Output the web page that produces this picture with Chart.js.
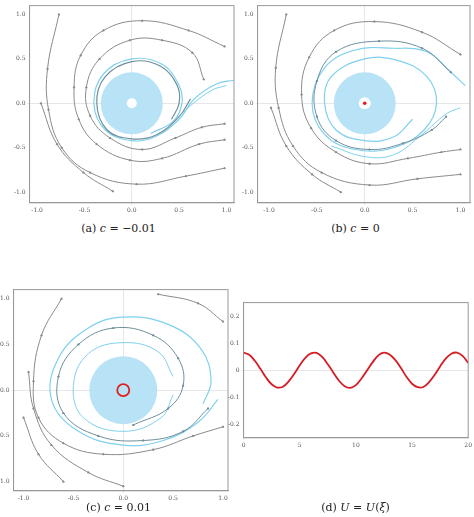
<!DOCTYPE html>
<html><head><meta charset="utf-8">
<script src="https://cdn.jsdelivr.net/npm/chart.js@4.4.1/dist/chart.umd.min.js"></script>
<style>
body{margin:0;background:#fff;width:474px;height:517px;position:relative;overflow:hidden}
canvas{position:absolute}
.cap{position:absolute;font-family:"DejaVu Serif","Liberation Serif",serif;font-size:11px;color:#222;text-align:center;width:237px}
</style></head><body>
<canvas id="ca" style="left:12px;top:0px"></canvas>
<canvas id="cb" style="left:240px;top:0px"></canvas>
<canvas id="cc" style="left:-4px;top:284px"></canvas>
<canvas id="cd" style="left:226px;top:297px"></canvas>
<div class="cap" style="left:0;top:222px">(a) <i>c</i> = −0.01</div>
<div class="cap" style="left:237px;top:222px">(b) <i>c</i> = 0</div>
<div class="cap" style="left:0;top:501px">(c) <i>c</i> = 0.01</div>
<div class="cap" style="left:237px;top:501px">(d) <i>U</i> = <i>U</i>(<i>ξ</i>)</div>
<script>
// ---- panel (a) c=-0.01 ----
const aGray1=[[-0.77,1.0],[-0.89,0.39],[-0.88,-0.07],[-0.74,-0.50],[-0.44,-0.78],[0.05,-0.91],[0.57,-0.82],[0.98,-0.73]];
const aGray2=[[-0.96,0.0],[-0.79,-0.46],[-0.51,-0.78],[-0.2,-0.99]];
const aGray3=[[0.98,0.64],[0.60,0.82],[0.11,0.93],[-0.30,0.82],[-0.54,0.54],[-0.61,0.18],[-0.56,-0.18],[-0.37,-0.46],[-0.02,-0.64],[0.32,-0.62],[0.71,-0.46],[0.98,-0.41]];
const aGray4=[[0.76,0.27],[0.64,0.57],[0.32,0.71],[-0.02,0.71],[-0.34,0.50],[-0.48,0.18],[-0.44,-0.14],[-0.23,-0.39],[0.11,-0.52],[0.46,-0.39],[0.74,-0.27],[0.98,-0.23]];
const aGray5=[[0.62,0.05],[0.5,-0.15],[0.25,-0.36],[0,-0.4],[-0.26,-0.3],[-0.37,0],[-0.28,0.3],[0,0.47],[0.3,0.42],[0.48,0.2],[0.5,0],[0.42,-0.18]];
const aCyan1=[[1.08,0.26],[0.9,0.22],[0.66,0.05],[0.5,-0.18],[0.24,-0.38],[0,-0.42],[-0.28,-0.3],[-0.4,0],[-0.3,0.33],[0,0.5],[0.32,0.44],[0.5,0.2],[0.53,0],[0.44,-0.2],[0.2,-0.34]];
const aCyan2=[[1.0,0.2],[0.85,0.15],[0.65,0.0],[0.55,-0.1]];
// ---- panel (b) c=0 ----
const bGray1=[[-0.82,1.0],[-0.93,0.4],[-0.9,-0.05],[-0.75,-0.48],[-0.45,-0.78],[0.05,-0.92],[0.55,-0.85],[1.0,-0.8]];
const bGray2=[[-0.98,-0.05],[-0.82,-0.48],[-0.55,-0.8],[-0.25,-1.0]];
const bGray3=[[1.0,0.55],[0.6,0.8],[0.1,0.92],[-0.32,0.82],[-0.58,0.52],[-0.66,0.1],[-0.56,-0.28],[-0.3,-0.55],[0.05,-0.68],[0.45,-0.62],[0.8,-0.55],[1.0,-0.52]];
const bGray4=[[0.9,0.35],[0.6,0.62],[0.15,0.7],[-0.3,0.58],[-0.5,0.25],[-0.5,-0.15],[-0.3,-0.42],[0.05,-0.52],[0.4,-0.45],[0.7,-0.3],[0.85,-0.15]];
const bCyan1=[[1.05,0.2],[0.9,0.35],[0.65,0.58],[0.3,0.62],[-0.1,0.6],[-0.42,0.4],[-0.55,0.0],[-0.42,-0.35],[-0.1,-0.52],[0.3,-0.5],[0.62,-0.3],[0.75,0.0],[0.65,0.3],[0.35,0.48],[0,0.5],[-0.35,0.3],[-0.42,0],[-0.3,-0.3],[0,-0.42],[0.3,-0.38],[0.5,-0.18]];
const bCyan2=[[1.0,-0.05],[0.85,-0.12],[0.6,-0.35],[0.3,-0.58],[0.0,-0.6],[-0.35,-0.48]];
// ---- panel (c) c=0.01 ----
const cGray1=[[-0.62,1.0],[-0.82,0.6],[-0.9,0.1],[-0.85,-0.3],[-0.6,-0.58],[-0.2,-0.7],[0.3,-0.65],[0.7,-0.5],[1.0,-0.4]];
const cGray2=[[-0.95,0.2],[-0.9,-0.2],[-0.72,-0.6],[-0.35,-0.9],[0.0,-1.05]];
const cGray3=[[-1.0,-0.3],[-0.85,-0.7],[-0.6,-1.0]];
const cGray4=[[1.0,0.75],[0.75,0.95],[0.35,1.05]];
const cGray5=[[0.85,-0.2],[0.6,-0.45],[0.2,-0.55],[-0.25,-0.5],[-0.6,-0.25],[-0.65,0.15],[-0.45,0.5],[-0.1,0.68],[0.3,0.6],[0.55,0.35],[0.6,0.05],[0.45,-0.2],[0.1,-0.38]];
const cCyan1=[[0.95,-0.1],[0.75,-0.35],[0.4,-0.55],[0,-0.6],[-0.45,-0.45],[-0.72,-0.1],[-0.65,0.35],[-0.35,0.68],[0,0.8],[0.45,0.72],[0.78,0.45],[0.88,0.1],[0.8,-0.15]];
const cCyan2=[[0.5,-0.05],[0.38,-0.3],[0,-0.45],[-0.4,-0.3],[-0.5,0.05],[-0.35,0.4],[0,0.52],[0.35,0.42],[0.5,0.15]];
// ---- panel (d) ----
const xi=[0,0.5,1,1.5,2,2.5,3,3.5,4,4.5,5,5.5,6,6.5,7,7.5,8,8.5,9,9.5,10,10.5,11,11.5,12,12.5,13,13.5,14,14.5,15,15.5,16,16.5,17,17.5,18,18.5,19,19.5,20];
const U=[0.065,0.057,0.035,0.005,-0.027,-0.052,-0.064,-0.061,-0.042,-0.014,0.018,0.046,0.062,0.064,0.049,0.022,-0.009,-0.039,-0.059,-0.065,-0.055,-0.031,0.0,0.03,0.055,0.065,0.058,0.038,0.009,-0.024,-0.05,-0.063,-0.062,-0.045,-0.018,0.014,0.043,0.061,0.065,0.053,0.027];
const phaseTicks=[-1.0,-0.5,0.0,0.5,1.0];
const uTicks=[-0.2,-0.1,0.0,0.1,0.2];
const xiTicks=[0,5,10,15,20];

const GRAY='#8a8a8a', CYAN='#7fd0ee', DISK='#b8e2f6';
const tickFont={family:'DejaVu Serif',size:6};
const pts=a=>a.map(p=>({x:p[0],y:p[1]}));
function line(a,color,w,pr){return {data:pts(a),showLine:true,borderColor:color,backgroundColor:color,borderWidth:w,tension:0.4,pointRadius:pr,pointStyle:'triangle',fill:false};}
function axes(xmin,xmax,ymin,ymax,xt,yt,fmt){
  const mk=(vals,pos,mn,mx)=>({type:'linear',position:pos,min:mn,max:mx,
    grid:{drawTicks:true,tickLength:2,color:c=>c.tick&&c.tick.value===0?'#e6e6e6':'rgba(0,0,0,0)'},
    border:{display:true,color:'#999',width:1},
    ticks:{font:tickFont,color:'#555',padding:2,callback:v=>fmt(v)},
    afterBuildTicks:ax=>{ax.ticks=vals.map(v=>({value:v}));}});
  return {x:mk(xt,'bottom',xmin,xmax),y:mk(yt,'left',ymin,ymax)};
}
const frame={id:'frame',afterDraw(ch){const a=ch.chartArea,c=ch.ctx;c.save();c.strokeStyle='#999';c.lineWidth=1;c.strokeRect(a.left,a.top,a.right-a.left,a.bottom-a.top);c.restore();}};
function make(id,w,h,datasets,sc){
  const cv=document.getElementById(id);cv.width=w;cv.height=h;
  new Chart(cv,{type:'scatter',data:{datasets},plugins:[frame],options:{responsive:false,animation:false,
    plugins:{legend:{display:false},tooltip:{enabled:false}},layout:{autoPadding:false,padding:{top:1,right:2}},scales:sc}});
}
const f1=v=>v.toFixed(1);
function disk(r,col){return {data:[{x:0,y:0}],pointRadius:r,backgroundColor:col,borderWidth:0,showLine:false};}
function ring(r,col,bw,bg){return {data:[{x:0,y:0}],pointRadius:r,backgroundColor:bg,borderColor:col,borderWidth:bw,showLine:false};}

make('ca',224,216,[disk(5,'#fff'),disk(31,DISK),
  line(aGray1,GRAY,1,1),line(aGray2,GRAY,1,1),line(aGray3,GRAY,1,1),line(aGray4,GRAY,1,1),line(aGray5,'#6f8f9a',1.2,0),
  line(aCyan1,CYAN,1.2,0),line(aCyan2,CYAN,1,0)],axes(-1.08,1.08,-1.12,1.1,phaseTicks,phaseTicks,f1));
make('cb',232,216,[disk(1.8,'#e02020'),disk(6,'#fff'),disk(31,DISK),
  line(bGray1,GRAY,1,1),line(bGray2,GRAY,1,1),line(bGray3,GRAY,1,1),line(bGray4,'#6f8f9a',1,1),
  line(bCyan1,CYAN,1.2,0),line(bCyan2,CYAN,1,0)],axes(-1.12,1.1,-1.12,1.1,phaseTicks,phaseTicks,f1));
make('cc',234,220,[ring(6,'#e02020',1.8,DISK),disk(34,DISK),
  line(cGray1,GRAY,1,1),line(cGray2,GRAY,1,1),line(cGray3,GRAY,1,1),line(cGray4,GRAY,1,1),line(cGray5,'#6f8f9a',1,1),
  line(cCyan1,CYAN,1.2,0),line(cCyan2,CYAN,1,0)],axes(-1.1,1.05,-1.1,1.1,phaseTicks,phaseTicks,f1));
make('cd',248,154,[line(xi.map((v,i)=>[v,U[i]]),'#d41c24',1.8,0)],
  axes(0,20,-0.25,0.25,xiTicks,uTicks,v=>Number.isInteger(v)?String(v):f1(v)));
</script></body></html>
